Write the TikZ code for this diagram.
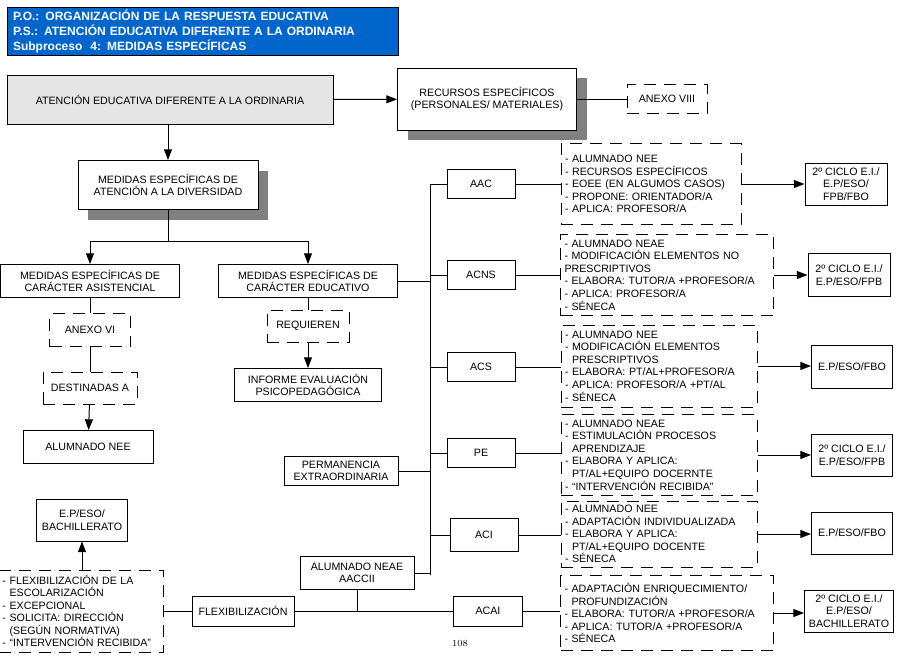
\documentclass[tikz,border=0pt]{standalone}
\usepackage{fontspec}
\setmainfont{Liberation Sans}
\usetikzlibrary{arrows.meta, shadows}
\definecolor{titleblue}{RGB}{0,102,204}
\tikzstyle{box} = [rectangle, draw=black, line width=0.75pt, fill=white, align=center, inner sep=0pt, font=\fontsize{8}{9.4}\selectfont]
\tikzstyle{shade} = [drop shadow={shadow xshift=7.5pt, shadow yshift=-7.5pt, fill=gray, opacity=1}]
\tikzstyle{dbox} = [box, dash pattern=on 9pt off 6pt]
\tikzstyle{list} = [dbox, align=left, inner xsep=3pt]
\tikzstyle{line} = [line width=0.75pt]
\tikzstyle{arrow} = [line width=0.75pt, -{Triangle[length=8pt,width=6pt]}]
\tikzset{sz/.style 2 args={minimum width=#1*0.75pt, minimum height=#2*0.75pt}}
\begin{document}
\begin{tikzpicture}[x=0.75pt, y=-0.75pt]
\useasboundingbox (0,0) rectangle (901,661);
% title
\node (title) [box, fill=titleblue, text=white, align=left, anchor=north west, sz={391}{48}, text width=380*0.75pt, inner xsep=3pt, font=\fontsize{9}{11.2}\bfseries\selectfont] at (7,7) {P.O.: ORGANIZACIÓN DE LA RESPUESTA EDUCATIVA\\P.S.: ATENCIÓN EDUCATIVA DIFERENTE A LA ORDINARIA\\Subproceso\ \ 4: MEDIDAS ESPECÍFICAS};
% top row
\node (main) [box, fill=gray!20, sz={326}{49}] at (170,100) {ATENCIÓN EDUCATIVA DIFERENTE A LA ORDINARIA};
\node (recursos) [box, shade, sz={179}{62}] at (487,99) {RECURSOS ESPECÍFICOS\\(PERSONALES/ MATERIALES)};
\node (anexo8) [dbox, sz={80}{29}] at (667,99) {ANEXO VIII};
\node (diversidad) [box, shade, sz={180}{49}] at (168,185) {MEDIDAS ESPECÍFICAS DE\\ATENCIÓN A LA DIVERSIDAD};
% left branch
\node (asist) [box, sz={179}{33}] at (90,281) {MEDIDAS ESPECÍFICAS DE\\CARÁCTER ASISTENCIAL};
\node (anexo6) [dbox, sz={81}{33}] at (90,330) {ANEXO VI};
\node (destinadas) [dbox, sz={94}{32}] at (90,388) {DESTINADAS A};
\node (nee) [box, sz={130}{33}] at (88,447) {ALUMNADO NEE};
% educational branch
\node (educ) [box, sz={179}{33}] at (308,281) {MEDIDAS ESPECÍFICAS DE\\CARÁCTER EDUCATIVO};
\node (requieren) [dbox, sz={82}{32}] at (308,326) {REQUIEREN};
\node (informe) [box, sz={147}{33}] at (308,385) {INFORME EVALUACIÓN\\PSICOPEDAGÓGICA};
\node (permanencia) [box, sz={114}{29}] at (341,471) {PERMANENCIA\\EXTRAORDINARIA};
\node (aaccii) [box, sz={114}{33}] at (357,573) {ALUMNADO NEAE\\AACCII};
\node (flex) [box, sz={102}{30}] at (243,611) {FLEXIBILIZACIÓN};
\node (flexlist) [list, sz={163}{82}, text width=157*0.75pt] at (81,611) {- FLEXIBILIZACIÓN DE LA\\\phantom{- }ESCOLARIZACIÓN\\- EXCEPCIONAL\\- SOLICITA: DIRECCIÓN\\\phantom{- }(SEGÚN NORMATIVA)\\- ``INTERVENCIÓN RECIBIDA''};
\node (bach) [box, sz={91}{42}] at (82,520) {E.P/ESO/\\BACHILLERATO};
% measures
\node (aac) [box, sz={68}{29}] at (481,184) {AAC};
\node (acns) [box, sz={68}{29}] at (481,275) {ACNS};
\node (acs) [box, sz={68}{29}] at (481,367) {ACS};
\node (pe) [box, sz={68}{29}] at (481,453) {PE};
\node (aci) [box, sz={68}{33}] at (484,535) {ACI};
\node (acai) [box, sz={69}{30}] at (488,611) {ACAI};
% lists
\node (aaclist) [list, sz={178}{81}, text width=172*0.75pt] at (651,184) {- ALUMNADO NEE\\- RECURSOS ESPECÍFICOS\\- EOEE (EN ALGUMOS CASOS)\\- PROPONE: ORIENTADOR/A\\- APLICA: PROFESOR/A};
\node (acnslist) [list, sz={211}{81}, text width=205*0.75pt] at (667,275) {- ALUMNADO NEAE\\- MODIFICACIÓN ELEMENTOS NO\\PRESCRIPTIVOS\\- ELABORA: TUTOR/A +PROFESOR/A\\- APLICA: PROFESOR/A\\- SÉNECA};
\node (acslist) [list, sz={194}{82}, text width=188*0.75pt] at (659,366) {- ALUMNADO NEE\\- MODIFICACIÓN ELEMENTOS\\\phantom{- }PRESCRIPTIVOS\\- ELABORA: PT/AL+PROFESOR/A\\- APLICA: PROFESOR/A +PT/AL\\- SÉNECA};
\node (pelist) [list, sz={194}{81}, text width=188*0.75pt] at (659,455) {- ALUMNADO NEAE\\- ESTIMULACIÓN PROCESOS\\\phantom{- }APRENDIZAJE\\- ELABORA Y APLICA:\\\phantom{- }PT/AL+EQUIPO DOCERNTE\\- ``INTERVENCIÓN RECIBIDA''};
\node (acilist) [list, sz={194}{66}, text width=188*0.75pt] at (659,534) {- ALUMNADO NEE\\- ADAPTACIÓN INDIVIDUALIZADA\\- ELABORA Y APLICA:\\\phantom{- }PT/AL+EQUIPO DOCENTE\\- SÉNECA};
\node (acailist) [list, sz={211}{75}, text width=205*0.75pt] at (667,613) {- ADAPTACIÓN ENRIQUECIMIENTO/\\\phantom{- }PROFUNDIZACIÓN\\- ELABORA: TUTOR/A +PROFESOR/A\\- APLICA: TUTOR/A +PROFESOR/A\\- SÉNECA};
% results
\node (aacres) [box, sz={82}{42}] at (846,184) {2º CICLO E.I./\\E.P/ESO/\\FPB/FBO};
\node (acnsres) [box, sz={82}{43}] at (849,275) {2º CICLO E.I./\\E.P/ESO/FPB};
\node (acsres) [box, sz={81}{43}] at (852,367) {E.P/ESO/FBO};
\node (peres) [box, sz={81}{42}] at (852,455) {2º CICLO E.I./\\E.P/ESO/FPB};
\node (acires) [box, sz={81}{42}] at (852,533) {E.P/ESO/FBO};
\node (acaires) [box, sz={89}{42}] at (849,611) {2º CICLO E.I./\\E.P/ESO/\\BACHILLERATO};
\node (page) [font=\fontfamily{lmr}\fontsize{7}{8}\selectfont] at (460,643) {108};
% coordinates
\coordinate (split) at (168,241);
\coordinate (bt) at (430,184);
\coordinate (bb) at (430,575);
% connectors
\draw [arrow] (main) -- (recursos);
\draw [line] (recursos) -- (anexo8);
\draw [arrow] (main.south -| diversidad.north) -- (diversidad.north);
\draw [line] (diversidad.south) -- (split);
\draw [arrow] (split) -| (asist.north);
\draw [arrow] (split) -| (educ.north);
\draw [line] (asist) -- (anexo6);
\draw [line] (anexo6) -- (destinadas);
\draw [arrow] (destinadas) -- (nee);
\draw [line] (educ) -- (requieren);
\draw [arrow] (requieren) -- (informe);
\draw [line] (bt) -- (bb);
\draw [line] (aaccii.east) -- (aaccii.east -| bb) -- (bb);
\draw [line] (educ.east) -- (educ.east -| bt);
\draw [line] (permanencia.east) -- (permanencia.east -| bt);
\foreach \m in {aac, acns, acs, pe, aci}
  \draw [line] (\m.west) -- (\m.west -| bt);
\foreach \m in {aac, acns, acs, pe, aci, acai} {
  \draw [line] (\m.east) -- (\m.east -| \m list.west);
  \draw [arrow] (\m list.east) -- (\m list.east -| \m res.west);
}
\draw [line] (aaccii.south) -- (aaccii.south |- flex.east);
\draw [line] (flex.east) -- (acai.west);
\draw [line] (flexlist.east |- flex.west) -- (flex.west);
\draw [arrow] (flexlist.north -| bach.south) -- (bach.south);
\end{tikzpicture}
\end{document}
